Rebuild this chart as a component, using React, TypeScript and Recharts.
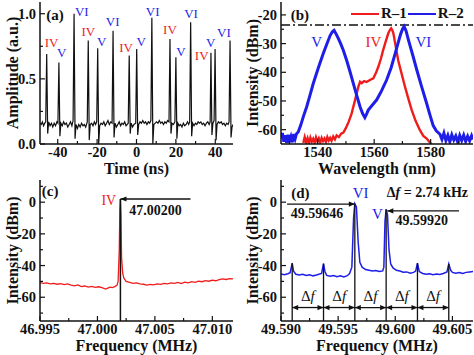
import React from "react";
import { LineChart, Line, XAxis, YAxis, ReferenceLine, ReferenceDot, Legend } from "recharts";

const FONT = '"Liberation Serif", "Times New Roman", serif';
const INK = "#111";
const RED = "#f01c1c";
const BLUE = "#1e1ee8";

// (a) pulse train: [time ns, amplitude a.u.]
const TRACE_A: [number, number][] = [
  [-49, 0.16], [-48.4, 0.15], [-47.8, 0.17], [-47.2, 0.14], [-46.6, 0.16], [-46.1, 0.17], [-45.6, 0.69], [-45.1, 0.08],
  [-44.6, 0.17], [-43.9, 0.14], [-43.2, 0.16], [-42.5, 0.13], [-41.8, 0.16], [-41.1, 0.14], [-40.4, 0.17], [-39.9, 0.16],
  [-39.4, 0.625], [-38.9, 0.06], [-38.4, 0.16], [-37.7, 0.14], [-37, 0.17], [-36.3, 0.15], [-35.6, 0.16], [-34.9, 0.13],
  [-34.2, 0.15], [-33.5, 0.17], [-32.8, 0.14], [-32.2, 0.18], [-31.7, 1.0], [-31.2, 0.04], [-30.7, 0.15], [-30, 0.12],
  [-29.3, 0.15], [-28.6, 0.13], [-27.9, 0.16], [-27.2, 0.14], [-26.5, 0.15], [-25.8, 0.13], [-25, 0.17], [-24.5, 0.795],
  [-24, 0.03], [-23.5, 0.15], [-22.8, 0.16], [-22.1, 0.14], [-21.4, 0.17], [-20.8, 0.15], [-20.2, 0.17], [-19.7, 0.735],
  [-19.2, 0.0], [-18.7, 0.14], [-18, 0.16], [-17.3, 0.15], [-16.6, 0.17], [-15.9, 0.14], [-15.2, 0.16], [-14.5, 0.18],
  [-13.8, 0.15], [-13.1, 0.17], [-12.4, 0.16], [-11.9, 0.87], [-11.4, 0.05], [-10.9, 0.16], [-10.2, 0.13], [-9.5, 0.15],
  [-8.8, 0.17], [-8.1, 0.14], [-7.4, 0.16], [-6.7, 0.15], [-6, 0.17], [-5.3, 0.14], [-4.2, 0.16], [-3.7, 0.68],
  [-3.2, 0.08], [-2.7, 0.16], [-2, 0.13], [-1.3, 0.15], [-0.4, 0.16], [0.1, 0.73], [0.6, 0.07], [1.1, 0.15],
  [1.8, 0.17], [2.5, 0.16], [3.2, 0.18], [3.9, 0.16], [4.6, 0.17], [5.3, 0.15], [6, 0.17], [6.7, 0.16],
  [7.3, 0.18], [7.8, 0.97], [8.3, 0.0], [8.8, 0.15], [9.5, 0.16], [10.2, 0.17], [10.9, 0.16], [11.6, 0.18],
  [12.3, 0.16], [13, 0.17], [13.7, 0.15], [14.4, 0.17], [15.1, 0.16], [15.8, 0.18], [16.5, 0.17], [17, 0.805],
  [17.5, 0.08], [18, 0.16], [18.7, 0.15], [19.5, 0.17], [20, 0.665], [20.5, 0.04], [21, 0.16], [21.7, 0.14],
  [22.4, 0.15], [23.1, 0.13], [23.8, 0.16], [24.5, 0.14], [25.2, 0.15], [25.9, 0.17], [26.5, 0.15], [27, 0.17],
  [27.5, 0.935], [28, 0.06], [28.5, 0.16], [29.2, 0.14], [29.9, 0.16], [30.6, 0.15], [31.3, 0.17], [32, 0.16],
  [32.7, 0.17], [33.4, 0.15], [34.1, 0.16], [34.8, 0.14], [35.5, 0.16], [36.2, 0.17], [36.9, 0.15], [37.4, 0.17],
  [37.8, 0.7], [38.3, 0.07], [38.8, 0.16], [39.4, 0.18], [39.9, 0.73], [40.4, 0.03], [40.9, 0.15], [41.6, 0.17],
  [42.3, 0.16], [43, 0.17], [43.7, 0.15], [44.4, 0.16], [45.1, 0.14], [45.8, 0.16], [46.5, 0.15], [47, 0.17],
  [47.5, 0.795], [48, 0.05], [48.5, 0.13], [49, 0.15],
];
const TAGS_A: [number, number, string][] = [
  [-43.1, 0.78, "IV"], [-38, 0.7, "V"], [-27.8, 1.015, "VI"], [-24.5, 0.867, "IV"], [-17.7, 0.79, "V"],
  [-12.1, 0.94, "VI"], [-5.3, 0.742, "IV"], [2.4, 0.79, "V"], [8.2, 1.02, "VI"], [17, 0.88, "IV"],
  [22.6, 0.714, "V"], [27.7, 1.0, "VI"], [33.1, 0.683, "IV"], [37.7, 0.78, "V"], [44.4, 0.857, "VI"],
];
const TIME_TICKS = [-40, -30, -20, -10, 0, 10, 20, 30, 40];
const TIME_MAJOR = [-40, -20, 0, 20, 40];
const AMP_TICKS = [0, 0.25, 0.5, 0.75, 1];
const AMP_MAJOR = [0, 0.5, 1];

// (b) optical spectra: [wavelength nm, dBm]
const SPEC_R1: [number, number][] = [
  [1534.9, -64.6], [1535.4, -62.6], [1535.9, -64.4], [1536.4, -63], [1536.9, -64.8], [1537.4, -62.8], [1537.9, -64.2],
  [1538.4, -63.2], [1538.9, -64.6], [1539.4, -62.7], [1539.9, -64.1], [1540.4, -63], [1540.9, -64.5], [1541.4, -62.9],
  [1541.9, -64], [1542.4, -63.1], [1542.9, -64.3], [1543.4, -62.6], [1543.9, -63.8], [1544.4, -62.9], [1544.9, -63.9],
  [1545.5, -62.4], [1546.1, -63.4], [1546.7, -62], [1547.5, -62.6], [1548.3, -61.4], [1549.1, -61], [1550, -59.4],
  [1551, -57.2], [1552, -54.4], [1553.2, -49.8], [1554.4, -45], [1555, -43.3], [1555.6, -43.8], [1556.4, -43.1],
  [1557.3, -43.4], [1558.5, -42.7], [1559.7, -42.1], [1560.6, -40.3], [1561.5, -38], [1562.4, -35.2], [1563.2, -32.2],
  [1564.1, -29.2], [1565, -26.4], [1565.6, -25.2], [1566, -24.7], [1566.4, -25.3], [1566.8, -26.4], [1567.6, -30.8],
  [1568.5, -35.8], [1569.7, -40.4], [1570.9, -45], [1572.1, -49.2], [1573.3, -53.2], [1574.7, -57], [1576.2, -60.2],
  [1577.4, -62.2], [1578.6, -63.1], [1579.5, -64.2], [1580.4, -65.2],
];
const SPEC_R2: [number, number][] = [
  [1527, -63], [1527.5, -61.2], [1528, -64.2], [1528.5, -62], [1529, -64.6], [1529.5, -61.8], [1530, -63.8],
  [1530.5, -62.4], [1531, -64.4], [1531.5, -61.5], [1532, -63.2], [1532.5, -61.4], [1533.1, -60.8], [1534, -58.4],
  [1535, -55.2], [1536.1, -52], [1537.2, -48.2], [1538.4, -44], [1540.2, -38.5], [1542, -33.4], [1543.2, -30.2],
  [1544.4, -27.2], [1545.2, -25.9], [1545.8, -25.4], [1546.5, -26.6], [1547.3, -28.2], [1548.2, -30.2], [1549.1, -32.4],
  [1550.3, -36], [1551.5, -40], [1552.6, -43.9], [1553.8, -48], [1555, -52], [1555.9, -54.4], [1556.7, -55.8],
  [1557.3, -54.6], [1557.9, -53.2], [1559.3, -51.5], [1560.9, -49.6], [1562.6, -46.5], [1564.4, -42.7], [1566, -38.4],
  [1567.4, -33.6], [1568.4, -30], [1569.4, -26.6], [1570.1, -24.8], [1570.6, -24], [1571.3, -25.6], [1572.1, -28.6],
  [1573.6, -33.8], [1575.1, -39.2], [1576.8, -45], [1578.6, -50.9], [1579.8, -55], [1580.9, -58.6], [1582, -60.4],
  [1583.3, -61.6], [1584, -63.4], [1584.7, -61.2], [1585.4, -63.8], [1586.1, -62], [1586.8, -64.2], [1587.5, -61.8],
  [1588.2, -63.6], [1588.9, -62.2], [1589.6, -64.4], [1590.3, -62], [1591, -63.8], [1591.7, -61.9], [1592.4, -64.1],
  [1593.1, -62.3], [1593.8, -63.9], [1594.5, -62.1], [1595, -63.4],
];
const TAGS_B: [number, number, string][] = [[1539.6, -29.3, "V"], [1559.7, -29.3, "IV"], [1577.4, -29.3, "VI"]];
const REF_LEVEL_B = -23.5;
const WL_TICKS = [1530, 1540, 1550, 1560, 1570, 1580, 1590];
const WL_MAJOR = [1540, 1560, 1580];
const DBM_B_TICKS = [-20, -25, -30, -35, -40, -45, -50, -55, -60];
const DBM_B_MAJOR = [-20, -30, -40, -50, -60];

// (c) RF spectrum of R-1: [MHz, dBm]
const RF_C: [number, number][] = [
  [46.995, -50.8], [46.9953, -51.3], [46.9956, -50.9], [46.9959, -51.6], [46.9962, -51.2], [46.9965, -51.8],
  [46.9968, -51.4], [46.9971, -52], [46.9974, -51.6], [46.9977, -52.3], [46.998, -52.8], [46.9983, -52.2],
  [46.9986, -53.3], [46.9989, -52.9], [46.9992, -53.6], [46.9995, -53.2], [46.9998, -53.8], [47.0001, -53.4],
  [47.0004, -54], [47.0007, -54.8], [47.0009, -54.2], [47.0011, -53.6], [47.0013, -53.9], [47.0015, -53.3],
  [47.0017, -52.5], [47.0018, -50], [47.0019, -30], [47.00195, -5], [47.002, 2], [47.00205, -8], [47.0021, -35],
  [47.0022, -45], [47.0023, -48], [47.0025, -50], [47.0028, -50.6], [47.0031, -51.2], [47.0034, -50.9],
  [47.0037, -51.5], [47.004, -51.8], [47.0043, -52.3], [47.0046, -51.9], [47.0049, -52.2], [47.0052, -51.6],
  [47.0055, -51.9], [47.0058, -51.2], [47.0061, -51.5], [47.0064, -50.9], [47.0067, -51.3], [47.007, -50.6],
  [47.0073, -51.4], [47.0076, -50.5], [47.0079, -50.9], [47.0082, -50.2], [47.0085, -50.6], [47.0088, -49.8],
  [47.0091, -50.2], [47.0094, -49.5], [47.0097, -49.9], [47.01, -49.2], [47.0103, -49.6], [47.0106, -48.9],
  [47.0109, -48.4], [47.0112, -48.8], [47.0115, -48.2], [47.0118, -48.4],
];
const PEAK_C = 47.002;
const MHZ_C_TICKS = [46.995, 46.9975, 47, 47.0025, 47.005, 47.0075, 47.01];
const MHZ_C_MAJOR = [46.995, 47, 47.005, 47.01];

// (d) RF spectrum of R-2: [MHz, dBm]
const RF_D: [number, number][] = [
  [49.59, -45.3], [49.5903, -45.8], [49.5906, -45.2], [49.5908, -44.5], [49.59098, -38.5], [49.5911, -43.5],
  [49.5913, -45.5], [49.5916, -46], [49.5919, -45.5], [49.5922, -46.3], [49.5925, -45.8], [49.5928, -46.5],
  [49.5931, -46], [49.59355, -45], [49.59372, -38.8], [49.59385, -44], [49.594, -46.2], [49.5943, -46.8],
  [49.5946, -46.3], [49.5949, -47], [49.5952, -46.5], [49.5955, -47.2], [49.5958, -46.4], [49.596, -45],
  [49.5962, -41], [49.59635, -10], [49.59646, -1], [49.5966, -3], [49.59675, -25], [49.5969, -38], [49.5971, -41],
  [49.5974, -42.5], [49.5977, -43], [49.598, -43.5], [49.5983, -43.2], [49.5986, -43.8], [49.5989, -43.4],
  [49.599, -41], [49.5991, -12], [49.5992, -4.5], [49.59932, -8], [49.59945, -30], [49.5996, -39], [49.5998, -41.5],
  [49.6001, -43], [49.6004, -43.5], [49.6007, -44.2], [49.601, -44], [49.6013, -44.8], [49.6016, -44.3],
  [49.60178, -43.5], [49.60194, -38.5], [49.6021, -43.8], [49.6024, -45], [49.6027, -45.5], [49.603, -45.2],
  [49.6033, -45.8], [49.6036, -45.3], [49.6039, -45.7], [49.6042, -45], [49.60452, -44], [49.60468, -39],
  [49.60485, -43], [49.605, -44.3], [49.6053, -44.8], [49.6056, -44.4], [49.6059, -45], [49.6062, -44.3],
  [49.6065, -44], [49.6068, -43.8],
];
const LINES_D = [49.59098, 49.59372, 49.59646, 49.5992, 49.60194, 49.60468];
const LINE_TOPS_D = [-38.5, -38.8, -1, -4.5, -38.5, -39];
const MHZ_D_TICKS = [49.59, 49.5925, 49.595, 49.5975, 49.6, 49.6025, 49.605];
const MHZ_D_MAJOR = [49.59, 49.595, 49.6, 49.605];
const DBM_TICKS = [10, 0, -10, -20, -30, -40, -50, -60, -70];
const DBM_MAJOR = [0, -20, -40, -60];

const pts = (a: [number, number][]) => a.map(([x, y]) => ({ x, y }));
const tagColor = (s: string) => (s === "IV" ? RED : BLUE);
const GAP = 8;

function BottomTick(props: any) {
  const { x, y, payload, majors, fmt } = props;
  const v = payload.value;
  const major = majors.includes(v);
  const ay = y - GAP;
  return (
    <g>
      <line x1={x} x2={x} y1={ay} y2={ay - (major ? 5 : 3)} stroke={INK} strokeWidth={1.2} />
      {major && (
        <text x={x} y={ay + 3} dy="0.72em" textAnchor="middle" fontFamily={FONT} fontWeight="bold" fontSize={14.5} fill={INK}>
          {fmt(v)}
        </text>
      )}
    </g>
  );
}

function LeftTick(props: any) {
  const { x, y, payload, majors, fmt } = props;
  const v = payload.value;
  const major = majors.includes(v);
  const ax = x + GAP;
  return (
    <g>
      <line x1={ax} x2={ax + (major ? 5 : 3)} y1={y} y2={y} stroke={INK} strokeWidth={1.2} />
      {major && (
        <text x={ax - 4} y={y} dy="0.35em" textAnchor="end" fontFamily={FONT} fontWeight="bold" fontSize={14.5} fill={INK}>
          {fmt(v)}
        </text>
      )}
    </g>
  );
}

const textShape = (text: React.ReactNode, color: string, size: number, weight = "normal") => (p: any) => (
  <text x={p.cx} y={p.cy} dy="0.35em" textAnchor="middle" fontFamily={FONT} fontSize={size} fontWeight={weight} fill={color}>
    {text}
  </text>
);

const arrowShape = (both: boolean) => (p: any) => {
  const { x1, y1, x2, y2 } = p;
  const a = Math.atan2(y2 - y1, x2 - x1);
  const tri = (x: number, y: number, ang: number) => {
    const L = 6, W = 2.6;
    const bx = x - L * Math.cos(ang), by = y - L * Math.sin(ang);
    const nx = -Math.sin(ang) * W, ny = Math.cos(ang) * W;
    return `${x},${y} ${bx + nx},${by + ny} ${bx - nx},${by - ny}`;
  };
  return (
    <g>
      <line x1={x1} y1={y1} x2={x2} y2={y2} stroke={INK} strokeWidth={1.3} />
      <polygon points={tri(x2, y2, a)} fill={INK} />
      {both && <polygon points={tri(x1, y1, a + Math.PI)} fill={INK} />}
    </g>
  );
};

const titleStyle = { fontFamily: FONT, fontWeight: "bold", fontSize: 16, fill: INK };
const frame = { stroke: INK, strokeWidth: 1.5 };

function LegendB(props: any) {
  return (
    <div style={{ display: "flex", alignItems: "center", fontFamily: FONT, fontWeight: "bold", fontSize: 15, color: INK }}>
      {(props.payload || []).map((p: any) => (
        <span key={p.value} style={{ display: "flex", alignItems: "center" }}>
          <svg width={28} height={6}>
            <line x1={0} x2={28} y1={3} y2={3} stroke={p.color} strokeWidth={2} />
          </svg>
          <span style={{ margin: "0 1px 0 2px" }}>{p.value}</span>
        </span>
      ))}
    </div>
  );
}

export default function App() {
  const fmtInt = (v: number) => String(v);
  return (
    <div style={{ position: "absolute", left: 0, top: 0, width: 474, height: 355, background: "#fff" }}>
      {/* (a) */}
      <div style={{ position: "absolute", left: 0, top: 0 }}>
        <LineChart width={240} height={178} margin={{ top: 2, right: 7, bottom: 0, left: 0 }}>
          <XAxis type="number" dataKey="x" domain={[-49, 49]} allowDataOverflow ticks={TIME_TICKS} interval={0}
            tickSize={0} tickMargin={GAP} tickLine={false} axisLine={frame} height={34}
            tick={<BottomTick majors={TIME_MAJOR} fmt={fmtInt} />}
            label={{ value: "Time (ns)", position: "insideBottom", offset: 4, style: titleStyle }} />
          <XAxis xAxisId="top" orientation="top" type="number" domain={[-49, 49]} allowDataOverflow height={0} tick={false} tickLine={false} axisLine={frame} />
          <YAxis type="number" domain={[0, 1.09]} allowDataOverflow ticks={AMP_TICKS} interval={0} width={40}
            tickSize={0} tickMargin={GAP} tickLine={false} axisLine={frame}
            tick={<LeftTick majors={AMP_MAJOR} fmt={(v: number) => v.toFixed(1)} />}
            label={{ value: "Amplitude (a.u.)", angle: -90, position: "insideLeft", offset: 12, style: { ...titleStyle, textAnchor: "middle" } }} />
          <YAxis yAxisId="r" orientation="right" type="number" domain={[0, 1.09]} width={0} tick={false} tickLine={false} axisLine={frame} />
          <Line data={pts(TRACE_A)} dataKey="y" stroke={INK} strokeWidth={1.2} dot={false} isAnimationActive={false} />
          {TAGS_A.map(([t, a, s], i) => (
            <ReferenceDot key={i} x={t} y={a} r={0} ifOverflow="visible" shape={textShape(s, tagColor(s), 13)} />
          ))}
          <ReferenceDot x={-41.4} y={0.99} r={0} ifOverflow="visible" shape={textShape("(a)", INK, 15, "bold")} />
        </LineChart>
      </div>

      {/* (b) */}
      <div style={{ position: "absolute", left: 240, top: 0 }}>
        <LineChart width={234} height={178} margin={{ top: 2, right: 1, bottom: 0, left: 0 }}>
          <XAxis type="number" dataKey="x" domain={[1527, 1595]} allowDataOverflow ticks={WL_TICKS} interval={0}
            tickSize={0} tickMargin={GAP} tickLine={false} axisLine={frame} height={34}
            tick={<BottomTick majors={WL_MAJOR} fmt={fmtInt} />}
            label={{ value: "Wavelength (nm)", position: "insideBottom", offset: 4, style: titleStyle }} />
          <XAxis xAxisId="top" orientation="top" type="number" domain={[1527, 1595]} allowDataOverflow height={0} tick={false} tickLine={false} axisLine={frame} />
          <YAxis type="number" domain={[-65, -15.5]} allowDataOverflow ticks={DBM_B_TICKS} interval={0} width={41}
            tickSize={0} tickMargin={GAP} tickLine={false} axisLine={frame}
            tick={<LeftTick majors={DBM_B_MAJOR} fmt={fmtInt} />}
            label={{ value: "Intensity (dBm)", angle: -90, position: "insideLeft", offset: 12, style: { ...titleStyle, textAnchor: "middle" } }} />
          <YAxis yAxisId="r" orientation="right" type="number" domain={[-65, -15.5]} width={0} tick={false} tickLine={false} axisLine={frame} />
          <ReferenceLine y={REF_LEVEL_B} stroke={INK} strokeWidth={1.5} strokeDasharray="9 3 2 3" />
          <Line name={"R\u20131"} data={pts(SPEC_R1)} dataKey="y" stroke={RED} strokeWidth={2.4} dot={false} isAnimationActive={false} />
          <Line name={"R\u20132"} data={pts(SPEC_R2)} dataKey="y" stroke={BLUE} strokeWidth={3} dot={false} isAnimationActive={false} />
          {TAGS_B.map(([w, d, s], i) => (
            <ReferenceDot key={i} x={w} y={d} r={0} ifOverflow="visible" shape={textShape(s, tagColor(s), 15)} />
          ))}
          <ReferenceDot x={1533.7} y={-20} r={0} ifOverflow="visible" shape={textShape("(b)", INK, 15, "bold")} />
          <Legend verticalAlign="middle" align="center" layout="horizontal" content={LegendB}
            wrapperStyle={{ top: 5, left: 111, width: "auto" }} />
        </LineChart>
      </div>

      {/* (c) */}
      <div style={{ position: "absolute", left: 0, top: 178 }}>
        <LineChart width={240} height={177} margin={{ top: 2, right: 7, bottom: 0, left: 0 }}>
          <XAxis type="number" dataKey="x" domain={[46.995, 47.0118]} allowDataOverflow ticks={MHZ_C_TICKS} interval={0}
            tickSize={0} tickMargin={GAP} tickLine={false} axisLine={frame} height={34}
            tick={<BottomTick majors={MHZ_C_MAJOR} fmt={(v: number) => v.toFixed(3)} />}
            label={{ value: "Frequency (MHz)", position: "insideBottom", offset: 4, style: titleStyle }} />
          <XAxis xAxisId="top" orientation="top" type="number" domain={[46.995, 47.0118]} allowDataOverflow height={0} tick={false} tickLine={false} axisLine={frame} />
          <YAxis type="number" domain={[-75, 14]} allowDataOverflow ticks={DBM_TICKS} interval={0} width={40}
            tickSize={0} tickMargin={GAP} tickLine={false} axisLine={frame}
            tick={<LeftTick majors={DBM_MAJOR} fmt={fmtInt} />}
            label={{ value: "Intensity (dBm)", angle: -90, position: "insideLeft", offset: 12, style: { ...titleStyle, textAnchor: "middle" } }} />
          <YAxis yAxisId="r" orientation="right" type="number" domain={[-75, 14]} width={0} tick={false} tickLine={false} axisLine={frame} />
          <Line data={pts(RF_C)} dataKey="y" stroke={RED} strokeWidth={1.3} dot={false} isAnimationActive={false} />
          <ReferenceLine segment={[{ x: PEAK_C, y: 2 }, { x: PEAK_C, y: -75 }]} stroke={INK} strokeWidth={1.5} ifOverflow="visible" />
          <ReferenceLine segment={[{ x: 47.0081, y: 2 }, { x: PEAK_C, y: 2 }]} ifOverflow="visible" shape={arrowShape(false)} />
          <ReferenceDot x={47.00099} y={1.5} r={0} ifOverflow="visible" shape={textShape("IV", RED, 14)} />
          <ReferenceDot x={47.00505} y={-4.9} r={0} ifOverflow="visible" shape={textShape("47.00200", INK, 14, "bold")} />
          <ReferenceDot x={46.99588} y={7.2} r={0} ifOverflow="visible" shape={textShape("(c)", INK, 15, "bold")} />
        </LineChart>
      </div>

      {/* (d) */}
      <div style={{ position: "absolute", left: 240, top: 178 }}>
        <LineChart width={234} height={177} margin={{ top: 2, right: 1, bottom: 0, left: 0 }}>
          <XAxis type="number" dataKey="x" domain={[49.59, 49.6068]} allowDataOverflow ticks={MHZ_D_TICKS} interval={0}
            tickSize={0} tickMargin={GAP} tickLine={false} axisLine={frame} height={34}
            tick={<BottomTick majors={MHZ_D_MAJOR} fmt={(v: number) => v.toFixed(3)} />}
            label={{ value: "Frequency (MHz)", position: "insideBottom", offset: 4, style: titleStyle }} />
          <XAxis xAxisId="top" orientation="top" type="number" domain={[49.59, 49.6068]} allowDataOverflow height={0} tick={false} tickLine={false} axisLine={frame} />
          <YAxis type="number" domain={[-75, 14]} allowDataOverflow ticks={DBM_TICKS} interval={0} width={41}
            tickSize={0} tickMargin={GAP} tickLine={false} axisLine={frame}
            tick={<LeftTick majors={DBM_MAJOR} fmt={fmtInt} />}
            label={{ value: "Intensity (dBm)", angle: -90, position: "insideLeft", offset: 12, style: { ...titleStyle, textAnchor: "middle" } }} />
          <YAxis yAxisId="r" orientation="right" type="number" domain={[-75, 14]} width={0} tick={false} tickLine={false} axisLine={frame} />
          <Line data={pts(RF_D)} dataKey="y" stroke={BLUE} strokeWidth={1.5} dot={false} isAnimationActive={false} />
          {LINES_D.map((f, i) => (
            <ReferenceLine key={`v${i}`} segment={[{ x: f, y: LINE_TOPS_D[i] }, { x: f, y: -75 }]} stroke={INK} strokeWidth={1.3} ifOverflow="visible" />
          ))}
          {LINES_D.slice(1).map((f, i) => (
            <ReferenceLine key={`h${i}`} segment={[{ x: LINES_D[i], y: -66.5 }, { x: f, y: -66.5 }]} ifOverflow="visible" shape={arrowShape(true)} />
          ))}
          {LINES_D.slice(1).map((f, i) => (
            <ReferenceDot key={`l${i}`} x={(LINES_D[i] + f) / 2} y={-59} r={0} ifOverflow="visible"
              shape={textShape(<>{"\u0394"}<tspan fontStyle="italic">f</tspan></>, INK, 15)} />
          ))}
          <ReferenceLine segment={[{ x: 49.59053, y: -1.2 }, { x: LINES_D[2], y: -1.2 }]} ifOverflow="visible" shape={arrowShape(false)} />
          <ReferenceLine segment={[{ x: 49.60558, y: -5.5 }, { x: 49.5993, y: -5.5 }]} ifOverflow="visible" shape={arrowShape(false)} />
          <ReferenceDot x={49.59316} y={-7} r={0} ifOverflow="visible" shape={textShape("49.59646", INK, 14, "bold")} />
          <ReferenceDot x={49.60231} y={-11.3} r={0} ifOverflow="visible" shape={textShape("49.59920", INK, 14, "bold")} />
          <ReferenceDot x={49.59696} y={5.8} r={0} ifOverflow="visible" shape={textShape("VI", BLUE, 15)} />
          <ReferenceDot x={49.59843} y={-7} r={0} ifOverflow="visible" shape={textShape("V", BLUE, 15)} />
          <ReferenceDot x={49.60281} y={6.1} r={0} ifOverflow="visible"
            shape={textShape(<>{"\u0394"}<tspan fontStyle="italic">f</tspan>{" = 2.74 kHz"}</>, INK, 14, "bold")} />
          <ReferenceDot x={49.5917} y={6} r={0} ifOverflow="visible" shape={textShape("(d)", INK, 15, "bold")} />
        </LineChart>
      </div>
    </div>
  );
}
